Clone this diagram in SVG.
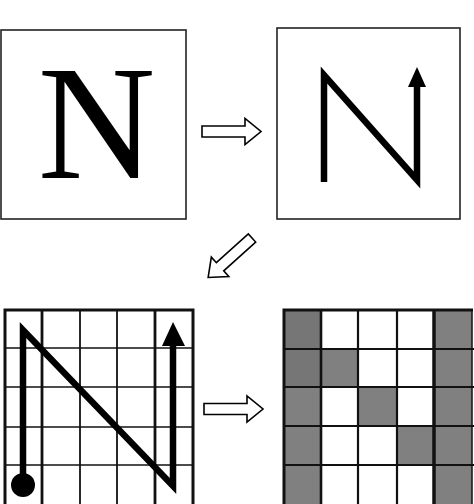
<svg xmlns="http://www.w3.org/2000/svg" width="474" height="504" viewBox="0 0 474 504">
<style>
.frame{fill:#fff;stroke:#222;stroke-width:1.6}
.stroke{fill:none;stroke:#000;stroke-width:6.5;stroke-linejoin:miter;stroke-linecap:butt}
.blk{fill:none;stroke:#000;stroke-width:1.6;stroke-linejoin:miter}
.g{fill:#808080}
.gl{stroke:#111;fill:none}
</style>
<defs>
<path id="barrow" d="M0,-5.5 H43 V-13 L59,0 L43,13 V5.5 H0 Z"/>
</defs>
<g id="node-letter">
<rect class="frame" x="1" y="30" width="185" height="189"/>
<text x="96.5" y="178" font-family="Liberation Serif, serif" font-size="163" text-anchor="middle" fill="#000">N</text>
</g>
<g id="node-stroke">
<rect class="frame" x="277" y="28" width="183" height="191"/>
<path class="stroke" d="M324,182 V75 L417,180 V84"/>
<path d="M408,87 L417,67 L426,87 Z" fill="#000"/>
</g>
<g id="node-grid">
<rect x="5" y="310" width="188" height="194" fill="#fff"/>
<g class="gl" stroke-width="1.5">
<line x1="5" y1="348" x2="193" y2="348"/>
<line x1="5" y1="387" x2="193" y2="387"/>
<line x1="5" y1="427" x2="193" y2="427"/>
<line x1="5" y1="465" x2="193" y2="465"/>
<line x1="80" y1="310" x2="80" y2="504" stroke-width="1.8"/>
<line x1="117" y1="310" x2="117" y2="504" stroke-width="1.8"/>
<line x1="42" y1="310" x2="42" y2="504" stroke-width="2.8"/>
<line x1="155" y1="310" x2="155" y2="504" stroke-width="2.8"/>
</g>
<path class="gl" stroke-width="3" d="M5,504 V310 H193 V504"/>
<path class="stroke" stroke-width="7" d="M23,485 V330 L173,486 V340"/>
<circle cx="23" cy="485" r="12" fill="#000"/>
<path d="M162,346 L173,322 L185,346 Z" fill="#000"/>
</g>
<g id="node-cells">
<rect x="284" y="310" width="190" height="194" fill="#fff"/>
<rect class="g" x="284" y="310" width="37" height="194"/>
<rect class="g" x="434" y="310" width="38" height="194"/>
<rect class="g" x="321" y="349" width="37" height="38"/>
<rect class="g" x="358" y="387" width="39" height="39"/>
<rect class="g" x="397" y="426" width="37" height="39"/>
<rect x="284" y="310" width="37" height="77" fill="#767676"/>
<g class="gl" stroke-width="2.2">
<line x1="284" y1="349" x2="474" y2="349"/>
<line x1="284" y1="387" x2="474" y2="387"/>
<line x1="284" y1="426" x2="474" y2="426"/>
<line x1="284" y1="465" x2="474" y2="465"/>
<line x1="321" y1="310" x2="321" y2="504" stroke-width="2.6"/>
<line x1="358" y1="310" x2="358" y2="504"/>
<line x1="397" y1="310" x2="397" y2="504"/>
<line x1="434" y1="310" x2="434" y2="504" stroke-width="3.5"/>
<line x1="472" y1="310" x2="472" y2="504" stroke-width="1.5"/>
</g>
<path class="gl" stroke-width="3" d="M284,504 V310 H473"/>
</g>
<g id="connectors">
<use href="#barrow" class="blk" transform="translate(202,131.5)"/>
<use href="#barrow" class="blk" transform="translate(252,238) rotate(138)"/>
<use href="#barrow" class="blk" transform="translate(204,409)"/>
</g>
</svg>
